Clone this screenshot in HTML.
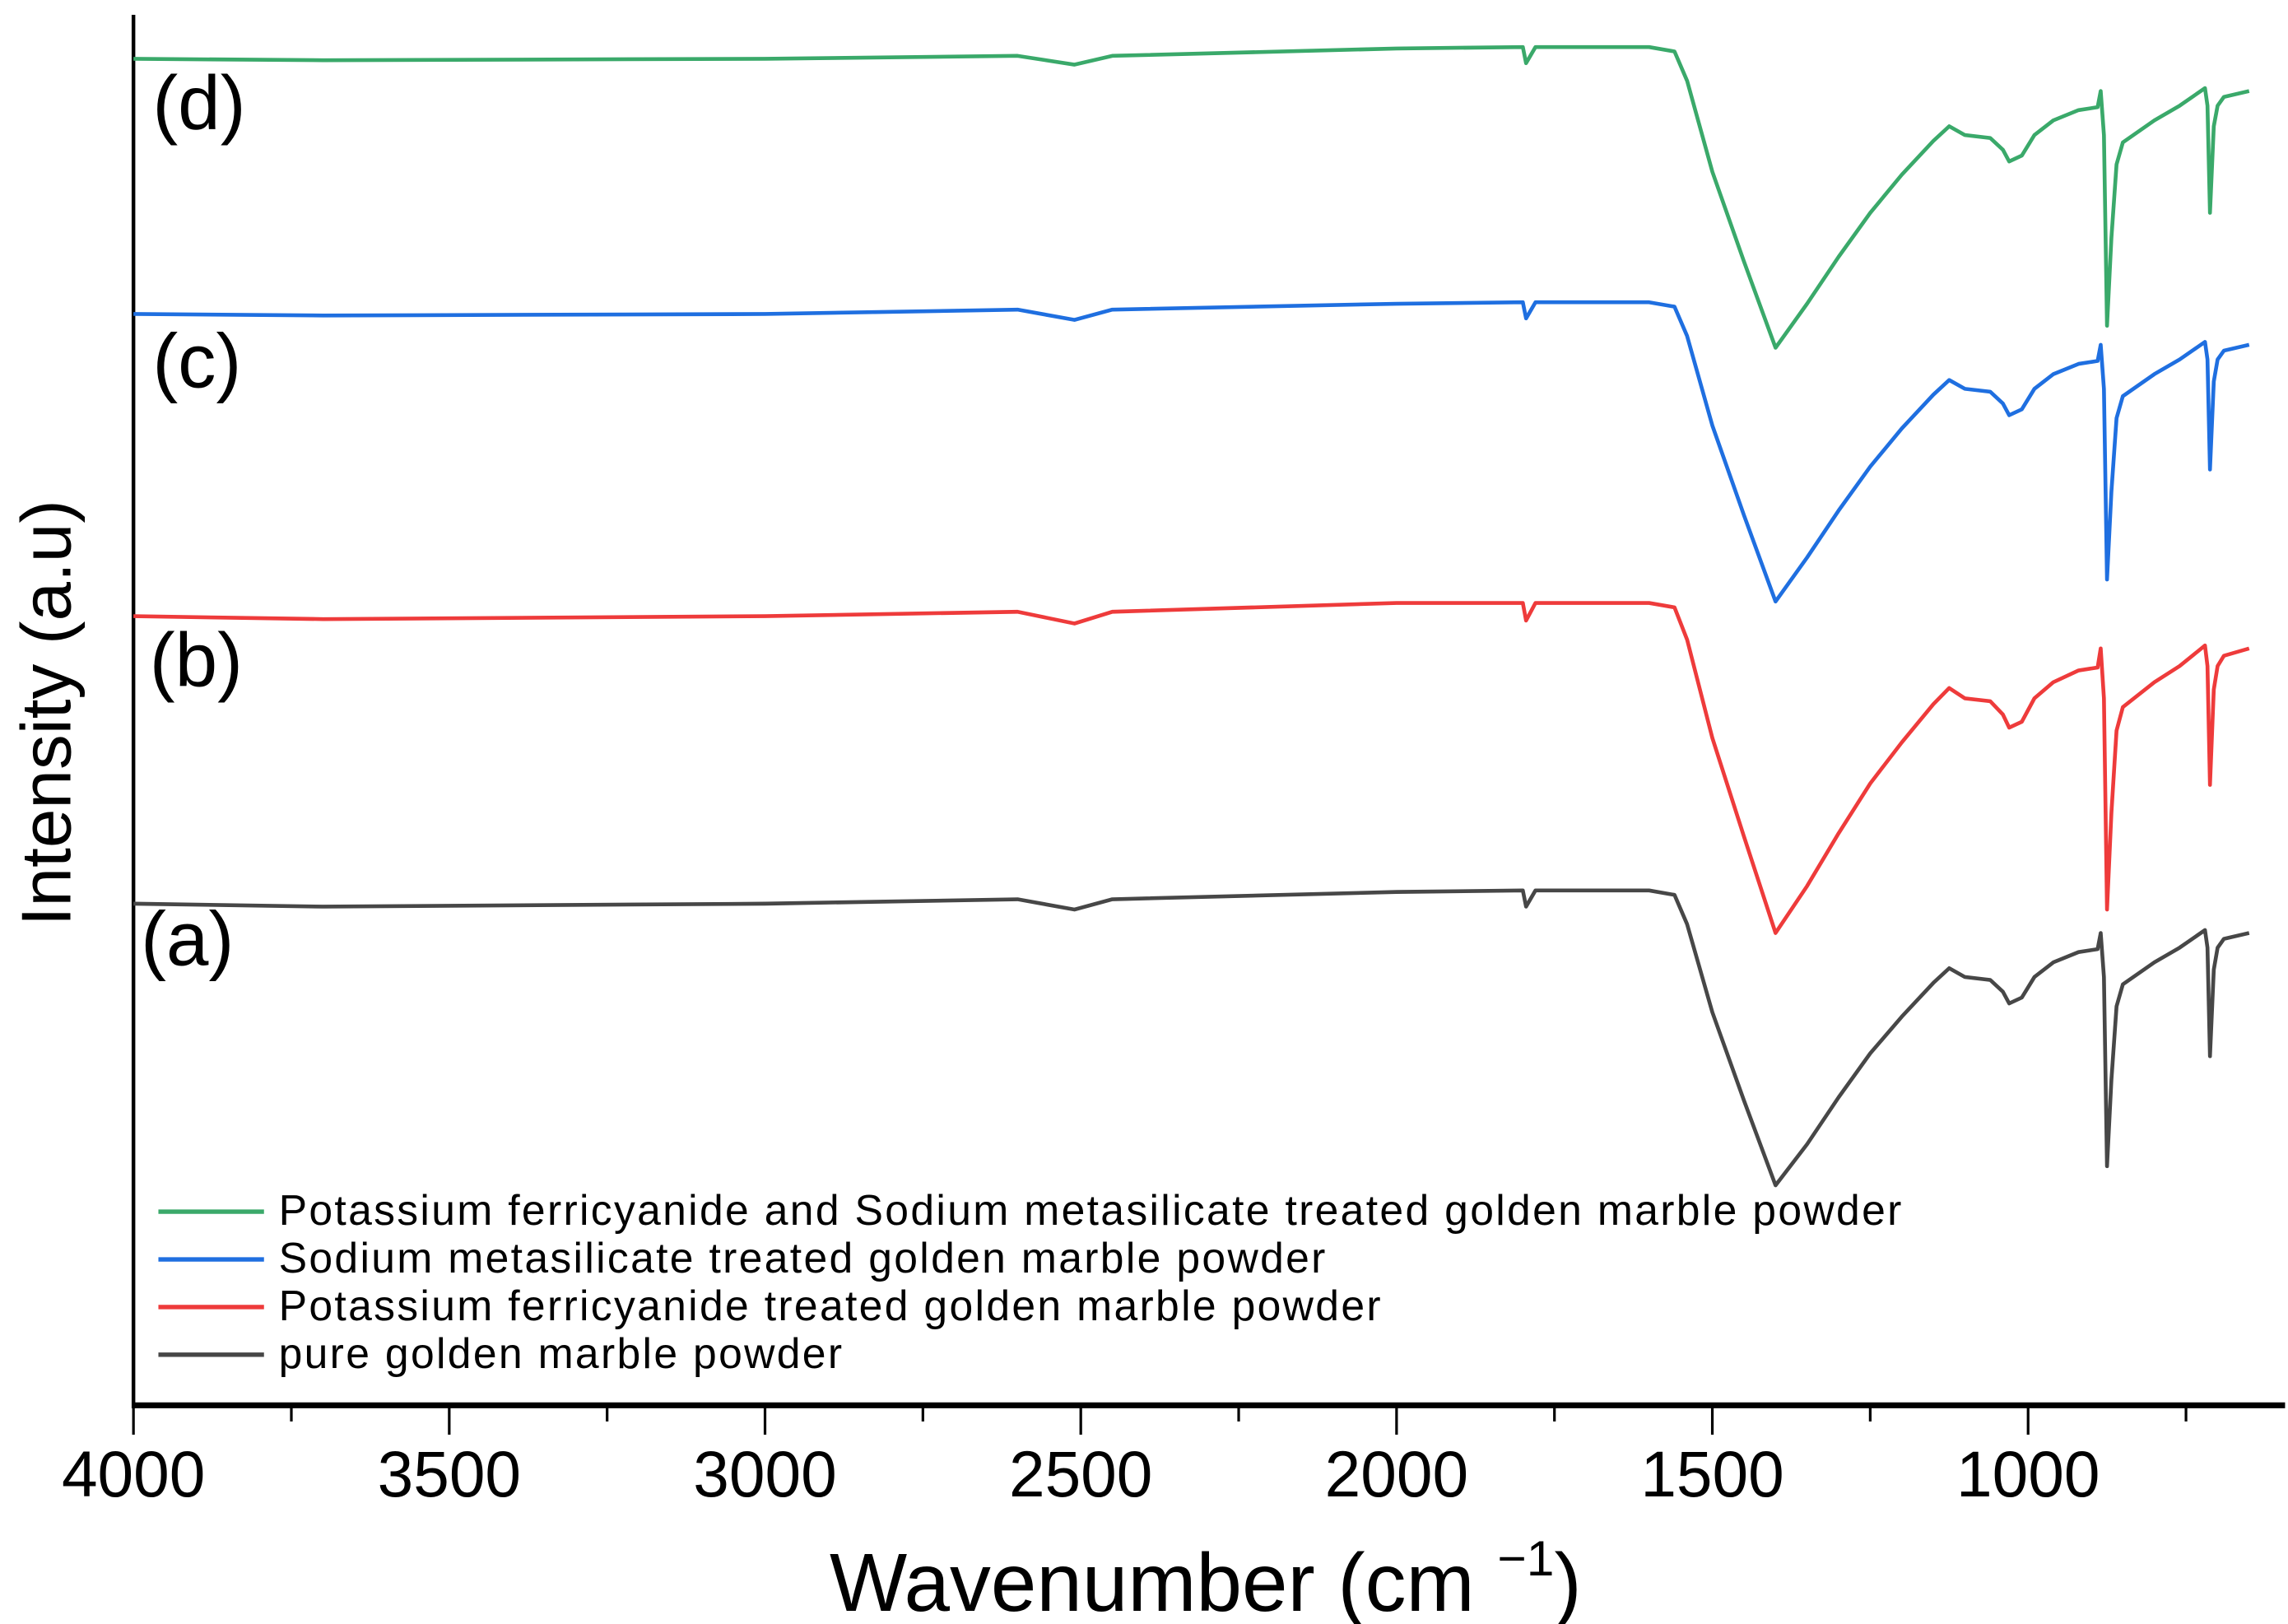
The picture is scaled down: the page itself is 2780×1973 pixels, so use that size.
<!DOCTYPE html>
<html><head><meta charset="utf-8"><style>
html,body{margin:0;padding:0;background:#fff}
svg{display:block;font-family:"Liberation Sans",sans-serif}
</style></head><body>
<svg id="chart" width="2780" height="1973" viewBox="0 0 1560 1107" xmlns="http://www.w3.org/2000/svg">
<rect width="1560" height="1107" fill="#fff"/>
<g id="axes"></g>
<g id="series"></g>
<text x="822" y="1098" font-size="56" text-anchor="middle">Wavenumber (cm <tspan font-size="34" dy="-24">−1</tspan><tspan dy="24">)</tspan></text>
<text transform="translate(48,486) rotate(-90)" font-size="48" text-anchor="middle">Intensity (a.u)</text>
<text x="104" y="88" font-size="52">(d)</text>
<text x="104" y="264" font-size="52">(c)</text>
<text x="102" y="468" font-size="52">(b)</text>
<text x="96" y="658" font-size="52">(a)</text>
<g id="legend"></g>
</svg>
<script>
const wavenumbers=[4000,3700,3000,2600,2510,2450,2000,1800,1795,1780,1600,1560,1540,1500,1450,1400,1350,1300,1250,1200,1150,1125,1100,1060,1040,1030,1010,990,960,920,890,885,880,875,868,860,850,800,760,720,716,712,706,700,690,650];
const depthA=[0,2,0,-3,4,-3,-8,-9,2,-9,-9,-6,14,74,134,192,164,132,102,77,54,44,50,52,60,68,64,50,40,33,31,20,50,179,120,70,55,40,30,18,30,104,45,30,24,20];
const depthB=[0,2,0,-3,5,-3,-9,-9,3,-9,-9,-6,16,83,150,216,184,148,114,86,60,49,56,58,67,76,72,56,45,37,35,22,56,200,134,78,62,45,34,20,34,115,50,34,27,22];
const depthC=[0,1,0,-3,4,-3,-7,-8,3,-8,-8,-5,15,76,137,196,166,134,104,78,55,45,51,53,61,69,65,51,41,34,32,21,51,181,121,71,56,41,31,19,31,106,46,31,25,21];
const depthD=[0,1,0,-2,4,-2,-7,-8,3,-8,-8,-5,15,77,138,197,167,135,105,79,56,46,52,54,62,70,66,52,42,35,33,22,52,182,122,72,57,42,32,20,32,105,46,32,26,22];
const offsets=[344,540,746,920];
const seriesNames=["pure golden marble powder","Potassium ferricyanide treated golden marble powder","Sodium metasilicate treated golden marble powder","Potassium ferricyanide and Sodium metasilicate treated golden marble powder"];
const colors=["#474747","#ee3b3b","#1f6fe0","#3aa96a"];
const xTicks=[4000,3500,3000,2500,2000,1500,1000];
const minorTicks=[3750,3250,2750,2250,1750,1250,750];

const NS="http://www.w3.org/2000/svg";
function xScale(w){return 91+(4000-w)/500*215.3;}
function yScale(v){return 960-v;}
function mk(tag,attrs,parent){const e=document.createElementNS(NS,tag);for(const k in attrs)e.setAttribute(k,attrs[k]);parent.appendChild(e);return e;}

const axes=document.getElementById('axes');
let e=mk('line',{x1:91,y1:10,x2:91,y2:960,stroke:'#000','stroke-width':2.5},axes);


e=mk('line',{x1:90,y1:958,x2:1558,y2:958,stroke:'#000','stroke-width':4},axes);


xTicks.forEach(t=>{
  const x=xScale(t);
  let l=mk('line',{x1:x,y1:958,x2:x,y2:978,stroke:'#000','stroke-width':1.8},axes);
  
  
  let tx=mk('text',{x:x,y:1020,'font-size':44,'text-anchor':'middle'},axes);
  tx.textContent=t;
  
  
});
minorTicks.forEach(t=>{
  const x=xScale(t);
  let l=mk('line',{x1:x,y1:958,x2:x,y2:969,stroke:'#000','stroke-width':1.8},axes);
  
  
});

const sg=document.getElementById('series');
const depths=[depthA,depthB,depthC,depthD];
const sNames=['series-a-pure','series-b-ferricyanide','series-c-metasilicate','series-d-combined'];
depths.forEach((d,i)=>{
  const pts=wavenumbers.map((w,j)=>xScale(w).toFixed(1)+','+yScale(offsets[i]-d[j]).toFixed(1)).join(' ');
  const p=mk('polyline',{points:pts,fill:'none',stroke:colors[i],'stroke-width':2.6,'stroke-linejoin':'round'},sg);
  
  
});

const lg=document.getElementById('legend');
const order=[3,2,1,0];
order.forEach((si,k)=>{
  const y=826+k*32.5;
  const g=mk('g',{},lg);
  
  
  mk('line',{x1:108,y1:y,x2:180,y2:y,stroke:colors[si],'stroke-width':3},g);
  const t=mk('text',{x:190,y:y+9,'font-size':29,'letter-spacing':'1.3'},g);
  t.textContent=seriesNames[si];
});
</script>
</body></html>
